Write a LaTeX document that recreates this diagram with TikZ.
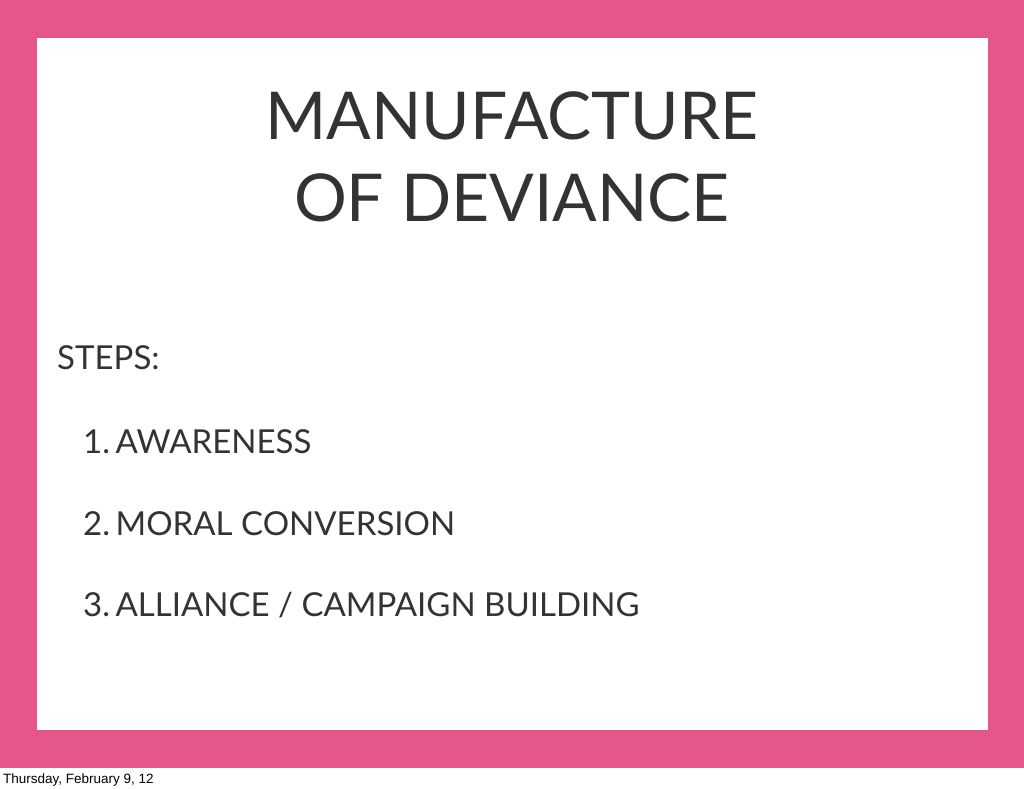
\documentclass[tikz,border=0pt]{standalone}
\usepackage{fontspec}
\setmainfont{Lato}
\newfontfamily\footfont{Liberation Sans}
\definecolor{pinkb}{HTML}{E5578A}
\definecolor{txt}{HTML}{333333}
\begin{document}
\begin{tikzpicture}[x=1pt,y=1pt,
  title/.style={anchor=base,text=txt,font=\fontsize{66}{66}\selectfont,inner sep=0},
  item/.style={anchor=base west,text=txt,font=\fontsize{33}{33}\selectfont,inner sep=0}]
\useasboundingbox (0,0) rectangle (1024,788);
\fill[white] (0,0) rectangle (1024,788);
\fill[pinkb] (0,20) rectangle (1024,788);
\fill[white] (37,58) rectangle (988,750);
\node[title] (t1) at (512,648) {MANUFACTURE};
\node[title] (t2) at (512,566) {OF DEVIANCE};
\node[item] (s) at (57,418) {STEPS:};
\node[item] (i1) at (83,335) {1.\,AWARENESS};
\node[item] (i2) at (83,253) {2.\,MORAL CONVERSION};
\node[item] (i3) at (83,172) {3.\,ALLIANCE / CAMPAIGN BUILDING};
\node[anchor=base west,inner sep=0,font=\footfont\fontsize{13.5}{13.5}\selectfont] (f) at (3,5) {Thursday, February 9, 12};
\end{tikzpicture}
\end{document}
